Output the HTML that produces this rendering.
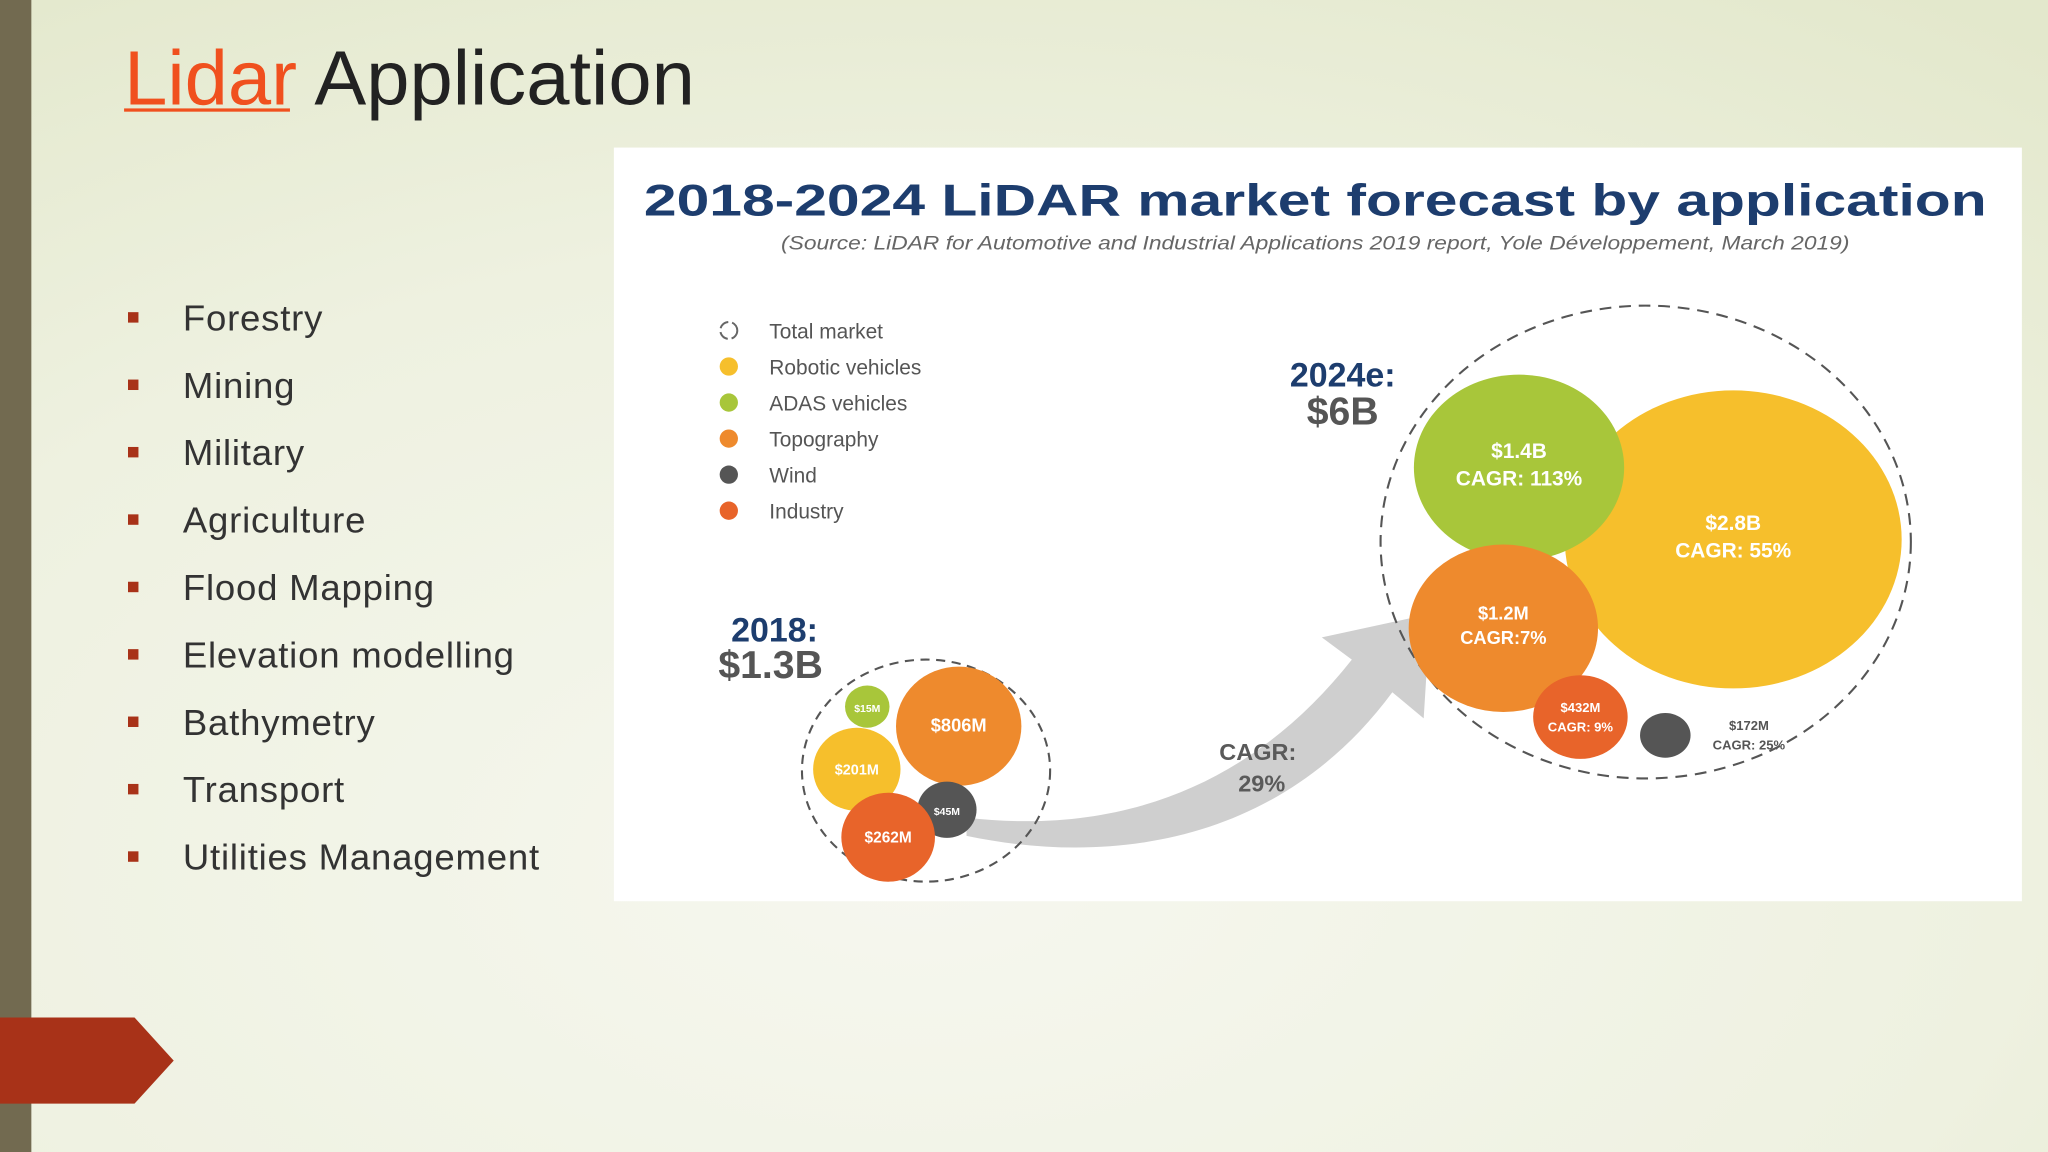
<!DOCTYPE html>
<html><head><meta charset="utf-8"><style>
html,body{margin:0;padding:0;width:2048px;height:1152px;overflow:hidden;background:#eef1df}
svg{display:block}
</style></head><body>
<svg id="s" width="2048" height="1152" viewBox="0 0 1568 882" xmlns="http://www.w3.org/2000/svg" font-family="Liberation Sans, sans-serif">
<defs>
<radialGradient id="bg" cx="0.45" cy="0.75" r="0.9">
<stop offset="0" stop-color="#f6f7ef"/><stop offset="0.6" stop-color="#eef1e0"/><stop offset="1" stop-color="#e3e8cc"/>
</radialGradient>
</defs>
<rect width="1568" height="882" fill="url(#bg)"/>
<rect x="0" y="0" width="24" height="882" fill="#726a50"/>
<polygon points="0,779 103,779 133,812 103,845 0,845" fill="#a83218"/>
<g>
<text x="95" y="80" font-size="59" fill="#222" textLength="437" lengthAdjust="spacingAndGlyphs"><tspan fill="#f0501e">Lidar</tspan> Application</text>
<rect x="95" y="83" width="127" height="2.5" fill="#f0501e"/>
</g>
<g id="bullets"></g>

<rect x="470" y="113" width="1078" height="577" fill="#fff"/>
<text x="1007" y="165" text-anchor="middle" font-size="34" font-weight="bold" fill="#1d3d6e" textLength="1028" lengthAdjust="spacingAndGlyphs">2018-2024 LiDAR market forecast by application</text>
<text x="1007" y="191" text-anchor="middle" font-size="15" font-style="italic" fill="#666" textLength="818" lengthAdjust="spacingAndGlyphs">(Source: LiDAR for Automotive and Industrial Applications 2019 report, Yole Développement, March 2019)</text>
<g id="legend"></g>

<path d="M740,626 C860,640 960,600 1035,505 L1012,488 L1095,470 L1090,550 L1066,530 C985,640 860,665 740,640 Z" fill="#cfcfcf"/>
<text x="963" y="582" text-anchor="middle" font-size="18" font-weight="bold" fill="#5a5a5a">CAGR:</text>
<text x="966" y="606" text-anchor="middle" font-size="18" font-weight="bold" fill="#5a5a5a">29%</text>

<text x="593" y="491" text-anchor="middle" font-size="26" font-weight="bold" fill="#1d3d6e">2018:</text>
<text x="590" y="519" text-anchor="middle" font-size="30" font-weight="bold" fill="#555">$1.3B</text>
<text x="1028" y="296" text-anchor="middle" font-size="26" font-weight="bold" fill="#1d3d6e">2024e:</text>
<text x="1028" y="325" text-anchor="middle" font-size="30" font-weight="bold" fill="#555">$6B</text>

<ellipse cx="709" cy="590" rx="95" ry="85" fill="none" stroke="#555" stroke-width="1.6" stroke-dasharray="7,5"/>
<ellipse cx="1260" cy="415" rx="203" ry="181" fill="none" stroke="#555" stroke-width="1.6" stroke-dasharray="9,6"/>
<g id="bubbles"></g>
</svg>
<script>
const bulletItems = ["Forestry","Mining","Military","Agriculture","Flood Mapping","Elevation modelling","Bathymetry","Transport","Utilities Management"];
const legendLabels = ["Total market","Robotic vehicles","ADAS vehicles","Topography","Wind","Industry"];
const legendColors = ["none","#f6bf2c","#a8c63a","#ee8a2d","#555555","#e8642a"];
const values2018 = [15, 806, 201, 45, 262];
const labels2018 = ["$15M","$806M","$201M","$45M","$262M"];
const cats2018 = [2, 3, 1, 4, 5];
const values2024 = [2800, 1400, 1200, 432, 172];
const labels2024 = [["$2.8B","CAGR: 55%"],["$1.4B","CAGR: 113%"],["$1.2M","CAGR:7%"],["$432M","CAGR: 9%"],["$172M","CAGR: 25%"]];
const cats2024 = [1, 2, 3, 5, 4];

const NS="http://www.w3.org/2000/svg";
function mk(tag,attrs,parent){const e=document.createElementNS(NS,tag);for(const k in attrs)e.setAttribute(k,attrs[k]);parent.appendChild(e);return e;}

const bl=document.getElementById('bullets');
bulletItems.forEach((t,i)=>{
  const y=243+i*51.6;
  const r=mk('rect',{x:98,y:y-4,width:8,height:8,fill:'#a83218'},bl);
  
  
  const tx=mk('text',{x:140,y:y+10,'font-size':28,'letter-spacing':0.6,fill:'#333'},bl);
  tx.textContent=t;
  
  
});

const lg=document.getElementById('legend');
legendLabels.forEach((t,i)=>{
  const y=253+i*27.6;
  let c;
  if(legendColors[i]==='none'){c=mk('circle',{cx:558,cy:y,r:6.5,fill:'none',stroke:'#666','stroke-width':1.5,'stroke-dasharray':'8,3'},lg);}
  else c=mk('circle',{cx:558,cy:y,r:7,fill:legendColors[i]},lg);
  
  
  const tx=mk('text',{x:589,y:y+6,'font-size':16,fill:'#555'},lg);
  tx.textContent=t;
  
  
});

function r2018(v){return 48*Math.pow(v/806,0.26);}
function r2024(v){return 124*Math.pow(v/2800,0.68);}
const anchors2018=[[664,541],[734,556],[656,589],[725,620],[680,641]];
const anchors2024=[[1327,413],[1163,358],[1151,481],[1210,549],[1275,563]];
const bg=document.getElementById('bubbles');
values2018.forEach((v,i)=>{
  const r=r2018(v);const [cx,cy]=anchors2018[i];
  const e=mk('ellipse',{cx:cx,cy:cy,rx:r,ry:r*0.95,fill:legendColors[cats2018[i]]},bg);
  
  
  const tx=mk('text',{x:cx,y:cy+4,'text-anchor':'middle','font-size':Math.max(8,Math.min(14,r*0.33)),'font-weight':'bold',fill:'#fff'},bg);
  tx.textContent=labels2018[i];
  
  
});
values2024.forEach((v,i)=>{
  const r=r2024(v);const [cx,cy]=anchors2024[i];
  const e=mk('ellipse',{cx:cx,cy:cy,rx:r*1.04,ry:r*0.92,fill:legendColors[cats2024[i]]},bg);
  
  
  const outside = i===4;
  const fs = i<2?16:(i===2?14:10);
  const lx = outside?cx+64:cx, col = outside?'#555':'#fff';
  labels2024[i].forEach((ln,j)=>{
    const tx=mk('text',{x:lx,y:cy+(j===0?-4:fs+1)-(i<3?fs*0.2:0),'text-anchor':'middle','font-size':fs,'font-weight':'bold',fill:col},bg);
    tx.textContent=ln;
    
    
  });
});
</script>
</body></html>
